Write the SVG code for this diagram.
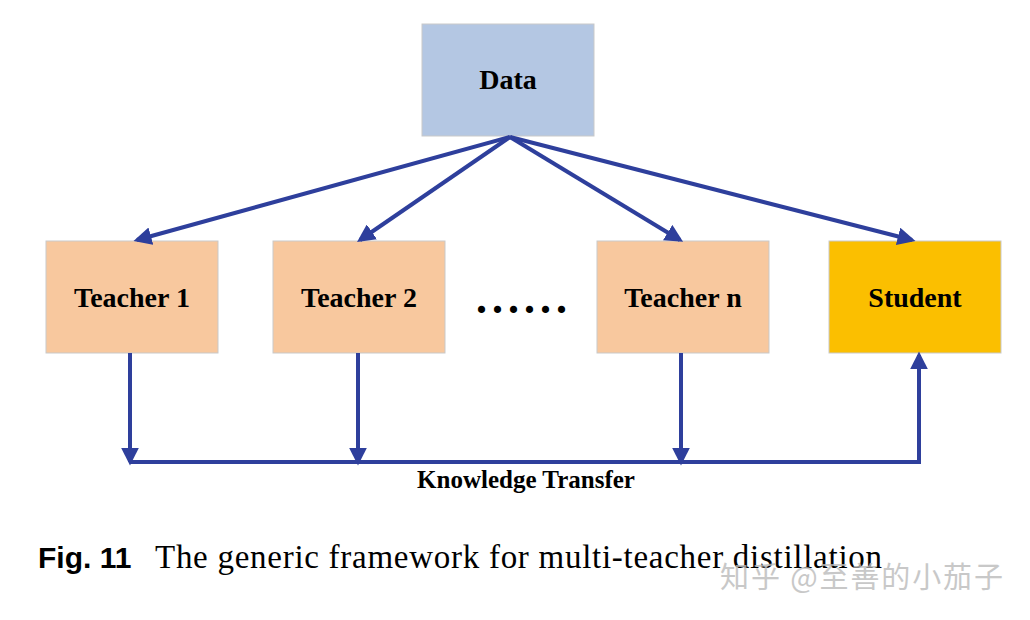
<svg xmlns="http://www.w3.org/2000/svg" width="1030" height="620" viewBox="0 0 1030 620">
<style>
.box{stroke:#c9c9c9;stroke-width:1}
.t{font-family:"Liberation Serif",serif;font-weight:bold;font-size:28px;text-anchor:middle;fill:#000}
.c{stroke:#2e3f9c;stroke-width:4;fill:none}
</style>
<defs><marker id="a" viewBox="0 0 10 10" refX="8" refY="5" markerWidth="4.5" markerHeight="4.5" orient="auto"><path d="M0,0L10,5L0,10z" fill="#2e3f9c"/></marker></defs>
<rect width="1030" height="620" fill="#fff"/>
<g id="data"><rect class="box" x="422" y="24" width="172" height="112" fill="#b4c7e3"/><text class="t" x="508" y="89">Data</text></g>
<g id="teacher1"><rect class="box" x="46" y="241" width="172" height="112" fill="#f8c89e"/><text class="t" x="132" y="307">Teacher 1</text></g>
<g id="teacher2"><rect class="box" x="273" y="241" width="172" height="112" fill="#f8c89e"/><text class="t" x="359" y="307">Teacher 2</text></g>
<g id="dots"><text class="t" x="524" y="313" style="font-size:44px;letter-spacing:5px">......</text></g>
<g id="teachern"><rect class="box" x="597" y="241" width="172" height="112" fill="#f8c89e"/><text class="t" x="683" y="307">Teacher n</text></g>
<g id="student"><rect class="box" x="829" y="241" width="172" height="112" fill="#fbbf00"/><text class="t" x="915" y="307">Student</text></g>
<g id="connectors">
<line class="c" x1="510" y1="137" x2="137" y2="240" marker-end="url(#a)"/>
<line class="c" x1="510" y1="137" x2="360" y2="240" marker-end="url(#a)"/>
<line class="c" x1="510" y1="137" x2="680" y2="240" marker-end="url(#a)"/>
<line class="c" x1="510" y1="137" x2="912" y2="240" marker-end="url(#a)"/>
<line class="c" x1="130" y1="353" x2="130" y2="462" marker-end="url(#a)"/>
<line class="c" x1="358" y1="353" x2="358" y2="462" marker-end="url(#a)"/>
<line class="c" x1="681" y1="353" x2="681" y2="462" marker-end="url(#a)"/>
<polyline class="c" points="130,462 919,462 919,355" marker-end="url(#a)"/>
</g>
<text class="t" x="526" y="488" style="font-size:25px">Knowledge Transfer</text>
<text x="38" y="568" style="font-family:'Liberation Sans',sans-serif;font-weight:bold;font-size:30px">Fig. 11</text>
<text x="155" y="568" textLength="727" style="font-family:'Liberation Serif',serif;font-size:33px">The generic framework for multi-teacher distillation</text>
<text x="720" y="588" textLength="283" style="font-family:'Noto Sans CJK SC',sans-serif;font-size:29px;fill:#bbb;opacity:0.8">知乎 @至善的小茄子</text>
</svg>
